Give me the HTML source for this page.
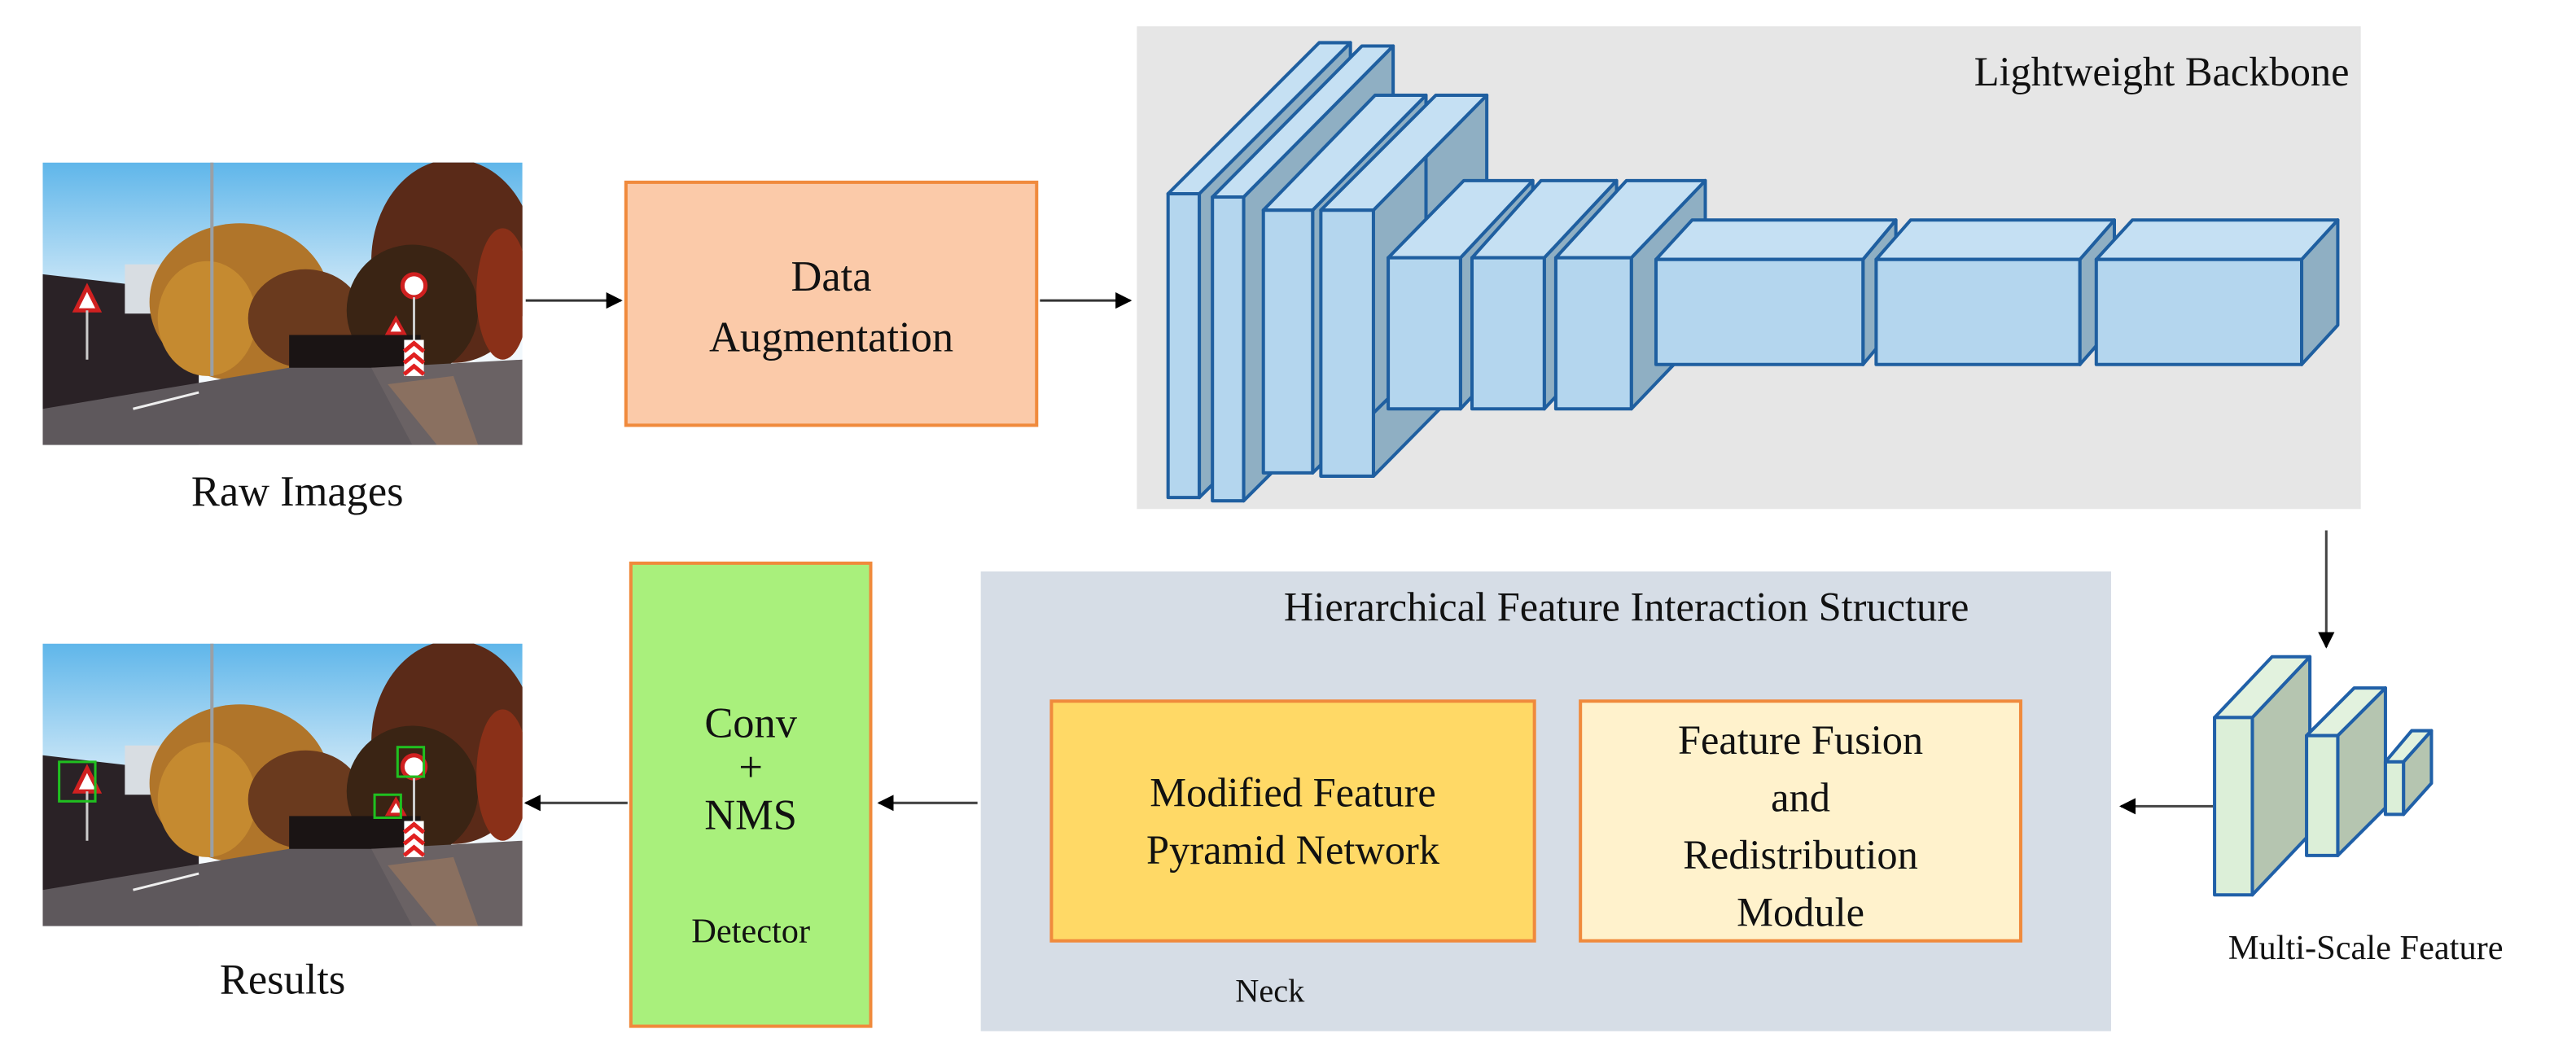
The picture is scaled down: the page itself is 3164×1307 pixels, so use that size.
<!DOCTYPE html>
<html><head><meta charset="utf-8"><style>
html,body{margin:0;padding:0;background:#fff;}
svg{display:block;}
text{font-family:"Liberation Serif",serif;fill:#111;}
</style></head><body>
<svg width="3164" height="1307" viewBox="0 0 1568 648" preserveAspectRatio="none" xmlns="http://www.w3.org/2000/svg">
<defs>
<linearGradient id="sky" x1="0" y1="0" x2="0" y2="1"><stop offset="0" stop-color="#5fb6ea"/><stop offset="0.6" stop-color="#eef6fb"/><stop offset="1" stop-color="#fff"/></linearGradient>
<clipPath id="pc"><rect x="0" y="0" width="292" height="172"/></clipPath>
<marker id="ah" markerWidth="10" markerHeight="10" refX="9" refY="5" orient="auto" markerUnits="userSpaceOnUse"><path d="M0,0 L10,5 L0,10 z" fill="#000"/></marker>
<g id="photo">
<g clip-path="url(#pc)">
<rect x="0" y="0" width="292" height="172" fill="url(#sky)"/>
<polygon points="0,68 60,75 95,85 95,172 0,172" fill="#2a2226"/>
<rect x="50" y="62" width="40" height="30" fill="#d8dde2"/>
<ellipse cx="120" cy="85" rx="55" ry="48" fill="#b0752a"/>
<ellipse cx="100" cy="95" rx="30" ry="35" fill="#c58a30"/>
<ellipse cx="160" cy="95" rx="35" ry="30" fill="#6a3a1e"/>
<ellipse cx="250" cy="60" rx="50" ry="62" fill="#5a2a18"/>
<ellipse cx="225" cy="90" rx="40" ry="40" fill="#3a2414"/>
<ellipse cx="280" cy="80" rx="16" ry="40" fill="#8a3018"/>
<rect x="150" y="105" width="80" height="30" fill="#1a1414"/>
<polygon points="0,150 60,140 150,125 210,125 230,172 0,172" fill="#5e585c"/>
<polygon points="200,125 292,120 292,172 225,172" fill="#6a6264"/>
<polygon points="210,135 250,130 265,172 240,172" fill="#8a7060"/>
<line x1="103" y1="0" x2="103" y2="130" stroke="#9aa0a6" stroke-width="2"/>
<line x1="55" y1="150" x2="95" y2="140" stroke="#eee" stroke-width="1.5"/>
<polygon points="20,90 27,76 34,90" fill="#fff" stroke="#d02020" stroke-width="2.5"/>
<line x1="27" y1="90" x2="27" y2="120" stroke="#ccc" stroke-width="1.5"/>
<circle cx="226" cy="75" r="7" fill="#fff" stroke="#d02020" stroke-width="2.5"/>
<line x1="226" y1="82" x2="226" y2="120" stroke="#ccc" stroke-width="1.5"/>
<polygon points="210,104 215,95 220,104" fill="#fff" stroke="#d02020" stroke-width="2"/>
<rect x="220" y="108" width="12" height="22" fill="#fff"/>
<path d="M220,115 l6,-5 l6,5 M220,122 l6,-5 l6,5 M220,129 l6,-5 l6,5" stroke="#e02020" stroke-width="2.5" fill="none"/>
</g>
</g>
</defs>

<use href="#photo" x="26" y="99"/>
<text x="181" y="308" font-size="26" text-anchor="middle">Raw Images</text>
<line x1="320" y1="183" x2="378" y2="183" stroke="#333" stroke-width="1.5" marker-end="url(#ah)"/>
<rect x="381" y="111" width="250" height="148" fill="#fbcaa9" stroke="#f08a3c" stroke-width="2"/>
<text x="506" y="177" font-size="26" text-anchor="middle">Data</text>
<text x="506" y="214" font-size="26" text-anchor="middle">Augmentation</text>
<line x1="633" y1="183" x2="688" y2="183" stroke="#333" stroke-width="1.5" marker-end="url(#ah)"/>

<rect x="692" y="16" width="745" height="294" fill="#e6e6e6"/>
<text x="1430" y="52" font-size="25" text-anchor="end">Lightweight Backbone</text>

<g stroke="#1f5fa0" stroke-width="2" stroke-linejoin="round">
<polygon points="836,128 905,58 905,220 836,290" fill="#8fafc3"/>
<polygon points="730,118 822,26 822,212 730,303" fill="#8fafc3"/>
<polygon points="711,118 803,26 822,26 730,118" fill="#c5e0f3"/>
<rect x="711" y="118" width="19" height="185" fill="#b4d6ee"/>
<polygon points="757,120 848,28 848,214 757,305" fill="#8fafc3"/>
<polygon points="738,120 829,28 848,28 757,120" fill="#c5e0f3"/>
<rect x="738" y="120" width="19" height="185" fill="#b4d6ee"/>
<polygon points="799,128 868,58 868,220 799,288" fill="#8fafc3"/>
<polygon points="769,128 837,58 868,58 799,128" fill="#c5e0f3"/>
<rect x="769" y="128" width="30" height="160" fill="#b4d6ee"/>
<polygon points="804,128 874,58 905,58 836,128" fill="#c5e0f3"/>
<rect x="804" y="128" width="32" height="162" fill="#b4d6ee"/>
<polygon points="889,157 933,110 933,202 889,249" fill="#8fafc3"/>
<polygon points="845,157 891,110 933,110 889,157" fill="#c5e0f3"/>
<rect x="845" y="157" width="44" height="92" fill="#b4d6ee"/>
<polygon points="940,157 984,110 984,202 940,249" fill="#8fafc3"/>
<polygon points="896,157 938,110 984,110 940,157" fill="#c5e0f3"/>
<rect x="896" y="157" width="44" height="92" fill="#b4d6ee"/>
<polygon points="993,157 1038,110 1038,202 993,249" fill="#8fafc3"/>
<polygon points="947,157 990,110 1038,110 993,157" fill="#c5e0f3"/>
<rect x="947" y="157" width="46" height="92" fill="#b4d6ee"/>
<polygon points="1134,158 1154,134 1154,198 1134,222" fill="#8fafc3"/>
<polygon points="1008,158 1030,134 1154,134 1134,158" fill="#c5e0f3"/>
<rect x="1008" y="158" width="126" height="64" fill="#b4d6ee"/>
<polygon points="1266,158 1287,134 1287,198 1266,222" fill="#8fafc3"/>
<polygon points="1142,158 1163,134 1287,134 1266,158" fill="#c5e0f3"/>
<rect x="1142" y="158" width="124" height="64" fill="#b4d6ee"/>
<polygon points="1401,158 1423,134 1423,198 1401,222" fill="#8fafc3"/>
<polygon points="1276,158 1298,134 1423,134 1401,158" fill="#c5e0f3"/>
<rect x="1276" y="158" width="125" height="64" fill="#b4d6ee"/>
</g>

<line x1="1416" y1="323" x2="1416" y2="394" stroke="#444" stroke-width="1.5" marker-end="url(#ah)"/>

<g stroke="#2060a8" stroke-width="2" stroke-linejoin="round">
<polygon points="1371,437 1406,400 1406,508 1371,545" fill="#b5c5b0"/>
<polygon points="1348,437 1383,400 1406,400 1371,437" fill="#e2f2de"/>
<rect x="1348" y="437" width="23" height="108" fill="#dcefd8"/>
<polygon points="1423,448 1452,419 1452,492 1423,521" fill="#b5c5b0"/>
<polygon points="1404,448 1433,419 1452,419 1423,448" fill="#e2f2de"/>
<rect x="1404" y="448" width="19" height="73" fill="#dcefd8"/>
<polygon points="1463,464 1480,445 1480,477 1463,496" fill="#b5c5b0"/>
<polygon points="1452,464 1468,445 1480,445 1463,464" fill="#e2f2de"/>
<rect x="1452" y="464" width="11" height="32" fill="#dcefd8"/>
</g>
<text x="1440" y="584" font-size="21" text-anchor="middle">Multi-Scale Feature</text>
<line x1="1347" y1="491" x2="1291" y2="491" stroke="#444" stroke-width="1.5" marker-end="url(#ah)"/>

<rect x="597" y="348" width="688" height="280" fill="#d6dde6"/>
<text x="990" y="378" font-size="25" text-anchor="middle">Hierarchical Feature Interaction Structure</text>
<rect x="640" y="427" width="294" height="146" fill="#ffd966" stroke="#f08a3c" stroke-width="2"/>
<text x="787" y="491" font-size="25" text-anchor="middle">Modified Feature</text>
<text x="787" y="526" font-size="25" text-anchor="middle">Pyramid Network</text>
<rect x="962" y="427" width="268" height="146" fill="#fff2cc" stroke="#f08a3c" stroke-width="2"/>
<text x="1096" y="459" font-size="25" text-anchor="middle">Feature Fusion</text>
<text x="1096" y="494" font-size="25" text-anchor="middle">and</text>
<text x="1096" y="529" font-size="25" text-anchor="middle">Redistribution</text>
<text x="1096" y="564" font-size="25" text-anchor="middle">Module</text>
<text x="773" y="610" font-size="20" text-anchor="middle">Neck</text>
<line x1="595" y1="489" x2="535" y2="489" stroke="#444" stroke-width="1.5" marker-end="url(#ah)"/>

<rect x="384" y="343" width="146" height="282" fill="#a9f07c" stroke="#f08a3c" stroke-width="2"/>
<text x="457" y="449" font-size="26" text-anchor="middle">Conv</text>
<text x="457" y="476" font-size="26" text-anchor="middle">+</text>
<text x="457" y="505" font-size="26" text-anchor="middle">NMS</text>
<text x="457" y="574" font-size="21" text-anchor="middle">Detector</text>
<line x1="382" y1="489" x2="320" y2="489" stroke="#444" stroke-width="1.5" marker-end="url(#ah)"/>

<use href="#photo" x="26" y="392"/>
<g fill="none" stroke="#20c020" stroke-width="1.5">
<rect x="36" y="464" width="22" height="24"/>
<rect x="242" y="455" width="16" height="18"/>
<rect x="228" y="484" width="16" height="14"/>
</g>
<text x="172" y="605" font-size="26" text-anchor="middle">Results</text>
</svg>
</body></html>
